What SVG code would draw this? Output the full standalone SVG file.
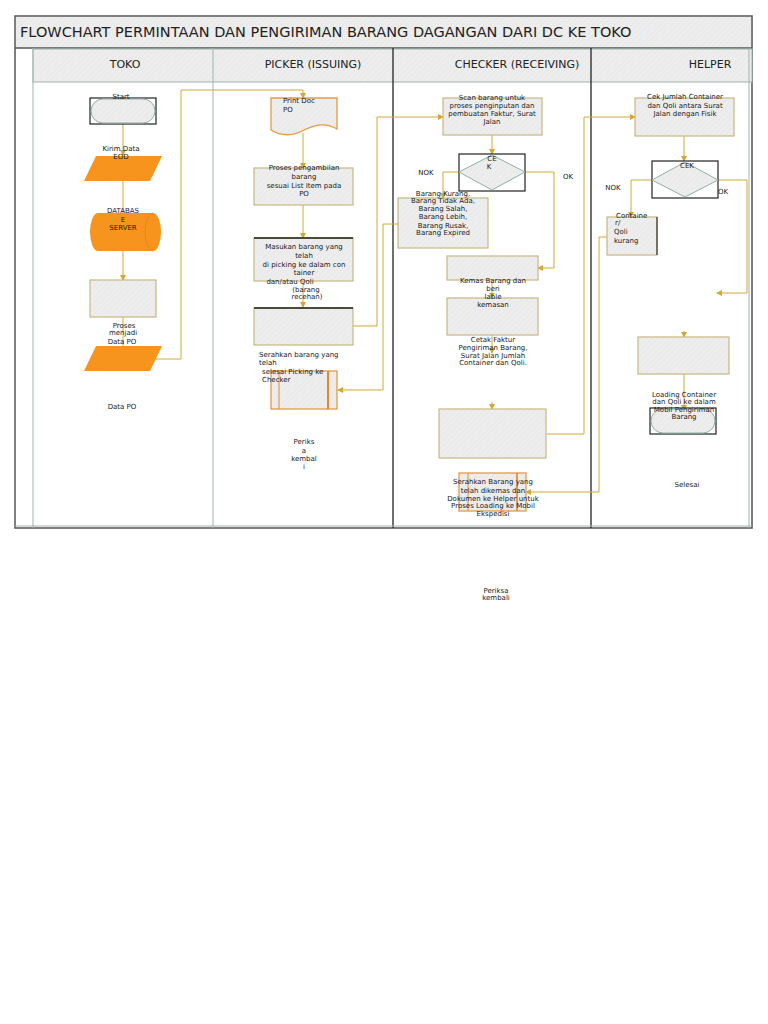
<svg xmlns="http://www.w3.org/2000/svg" width="768" height="1024" viewBox="0 0 768 1024">
<style>
text{font-family:"DejaVu Sans","Liberation Sans",sans-serif;fill:#1a1a1a}
.t{font-size:7px;text-anchor:middle}
.tl{font-size:7px}
.hd{font-size:11px;text-anchor:middle;fill:#222}
.box{fill:url(#hatch);stroke:#c8b782;stroke-width:1.2}
.org{fill:#f7941d;stroke:none}
.doc{fill:url(#hatch);stroke:#e69a45;stroke-width:1.3}
.con{fill:none;stroke:#d2a836;stroke-width:1}
.blk{fill:none;stroke:#222;stroke-width:1.2}
.dia{fill:url(#hatch);stroke:#8fb0a6;stroke-width:1}
</style>
<defs>
<pattern id="hatch" width="4" height="4" patternUnits="userSpaceOnUse" patternTransform="rotate(45)">
<rect width="4" height="4" fill="#ededed"/>
<line x1="0" y1="0" x2="0" y2="4" stroke="#e4e4e4" stroke-width="1"/>
</pattern>
<marker id="ah" markerWidth="6" markerHeight="6" refX="5" refY="3" orient="auto" markerUnits="userSpaceOnUse">
<path d="M0,0 L6,3 L0,6 Z" fill="#d2a836"/>
</marker>
</defs>
<rect width="768" height="1024" fill="#ffffff"/>

<g id="frame">
<rect x="15" y="16" width="737" height="512" fill="#ffffff" stroke="#555" stroke-width="1.5"/>
<rect x="16" y="17" width="735" height="31" fill="url(#hatch)"/>
<line x1="15" y1="48" x2="752" y2="48" stroke="#555" stroke-width="1.5"/>
<rect x="33" y="49" width="719" height="33" fill="url(#hatch)" stroke="#9fb5ad" stroke-width="1"/>
<line x1="33" y1="48" x2="33" y2="528" stroke="#9fb5ad" stroke-width="1"/>
<line x1="213" y1="48" x2="213" y2="528" stroke="#9fb5ad" stroke-width="1"/>
<line x1="393" y1="48" x2="393" y2="528" stroke="#222" stroke-width="1.3"/>
<line x1="591" y1="48" x2="591" y2="528" stroke="#222" stroke-width="1.3"/>
<line x1="749" y1="48" x2="749" y2="528" stroke="#9fb5ad" stroke-width="1"/>
<line x1="15" y1="526" x2="752" y2="526" stroke="#9fb5ad" stroke-width="1"/>
<text x="20" y="37" style="font-size:14.5px;fill:#222">FLOWCHART PERMINTAAN DAN PENGIRIMAN BARANG DAGANGAN DARI DC KE TOKO</text>
<text class="hd" x="125" y="68">TOKO</text>
<text class="hd" x="313" y="68">PICKER (ISSUING)</text>
<text class="hd" x="517" y="68">CHECKER (RECEIVING)</text>
<text class="hd" x="710" y="68">HELPER</text>
</g>

<g id="connectors">
<path class="con" d="M123,124 V155" marker-end="url(#ah)"/>
<path class="con" d="M123,181 V213"/>
<path class="con" d="M123,251 V280" marker-end="url(#ah)"/>
<path class="con" d="M123,317 V346"/>
<path class="con" d="M152,359 H181 V90 H303 V98" marker-end="url(#ah)"/>
<path class="con" d="M303,133 V168" marker-end="url(#ah)"/>
<path class="con" d="M303,205 V238" marker-end="url(#ah)"/>
<path class="con" d="M303,281 V307" marker-end="url(#ah)"/>
<path class="con" d="M353,326 H377 V117 H443" marker-end="url(#ah)"/>
<path class="con" d="M398,224 H383 V390 H338" marker-end="url(#ah)"/>
<path class="con" d="M492,135 V154" marker-end="url(#ah)"/>
<path class="con" d="M459,172 H443 V198" marker-end="url(#ah)"/>
<path class="con" d="M525,172 H554 V268 H538" marker-end="url(#ah)"/>
<path class="con" d="M492,280 V298" marker-end="url(#ah)"/>
<path class="con" d="M492,335 V353" marker-end="url(#ah)"/>
<path class="con" d="M492,402 V409" marker-end="url(#ah)"/>
<path class="con" d="M547,434 H584 V117 H635" marker-end="url(#ah)"/>
<path class="con" d="M684,136 V161" marker-end="url(#ah)"/>
<path class="con" d="M652,180 H631 V217" marker-end="url(#ah)"/>
<path class="con" d="M718,180 H747 V293 H717" marker-end="url(#ah)"/>
<path class="con" d="M607,237 H599 V492 H526" marker-end="url(#ah)"/>
<path class="con" d="M684,331 V337" marker-end="url(#ah)"/>
<path class="con" d="M684,374 V410" marker-end="url(#ah)"/>
</g>

<g id="start">
<rect class="blk" x="90" y="98" width="66" height="26"/>
<rect x="91" y="99" width="64" height="24" rx="12" fill="url(#hatch)" stroke="#8fb0a6" stroke-width="1"/>
<text class="t" x="121" y="98.5">Start</text>
</g>

<g id="kirim-data">
<polygon class="org" points="84,181 96,156 162,156 150,181"/>
<text class="t" x="121" y="151">Kirim Data</text>
<text class="t" x="121" y="158.5">EOD</text>
</g>

<g id="database">
<path class="org" d="M98,213 H153 A8,19 0 0 1 153,251 H98 A8,19 0 0 1 98,213 Z"/>
<path d="M153,213 A8,19 0 0 0 153,251" fill="none" stroke="#e8861a" stroke-width="1"/>
<text class="t" x="123" y="213">DATABAS</text>
<text class="t" x="123" y="222">E</text>
<text class="t" x="123" y="229.5">SERVER</text>
</g>

<g id="proses-po">
<rect class="box" x="90" y="280" width="66" height="37"/>
<text class="t" x="124" y="327.5">Proses</text>
<text class="t" x="123" y="335">menjadi</text>
<text class="t" x="122" y="343.5">Data PO</text>
</g>

<g id="data-po">
<polygon class="org" points="84,371 96,346 162,346 150,371"/>
<text class="t" x="122" y="408.5">Data PO</text>
</g>

<g id="print-doc">
<path class="doc" d="M271,98 H337 V129 C324,121 312,126 302,131 C292,136 281,136 271,130 Z"/>
<text class="tl" x="283" y="103">Print Doc</text>
<text class="tl" x="283" y="112">PO</text>
</g>

<g id="pengambilan">
<rect class="box" x="254" y="168" width="99" height="37"/>
<text class="t" x="304" y="170">Proses pengambilan</text>
<text class="t" x="304" y="179">barang</text>
<text class="t" x="304" y="187.5">sesuai List Item pada</text>
<text class="t" x="304" y="196">PO</text>
</g>

<g id="masukan">
<rect class="box" x="254" y="238" width="99" height="43"/>
<line x1="254" y1="238" x2="353" y2="238" stroke="#4a4a3a" stroke-width="2"/>
<text class="t" x="304" y="249">Masukan barang yang</text>
<text class="t" x="304" y="257.5">telah</text>
<text class="t" x="304" y="266.5">di picking  ke dalam con</text>
<text class="t" x="304" y="275">tainer</text>
<text class="t" x="290" y="283.5">dan/atau Qoli</text>
<text class="t" x="306" y="291.5">(barang</text>
<text class="t" x="307" y="299">recehan)</text>
</g>

<g id="serahkan-picker">
<rect class="box" x="254" y="308" width="99" height="37"/>
<line x1="254" y1="308" x2="353" y2="308" stroke="#4a4a3a" stroke-width="2"/>
<text class="tl" x="259" y="357">Serahkan barang yang</text>
<text class="tl" x="259" y="365">telah</text>
</g>

<g id="predef-picker">
<rect class="doc" x="271" y="371" width="66" height="38"/>
<line x1="279" y1="371" x2="279" y2="409" stroke="#e69a45" stroke-width="1.2"/>
<line x1="328" y1="371" x2="328" y2="409" stroke="#d9801f" stroke-width="1.8"/>
<text class="tl" x="262" y="374">selesai Picking ke</text>
<text class="tl" x="262" y="382">Checker</text>
</g>

<g id="periksa-picker">
<text class="t" x="304" y="444">Periks</text>
<text class="t" x="304" y="452.5">a</text>
<text class="t" x="304" y="461">kembal</text>
<text class="t" x="304" y="469">i</text>
</g>

<g id="scan">
<rect class="box" x="443" y="98" width="99" height="37"/>
<text class="t" x="492" y="99.5">Scan barang untuk</text>
<text class="t" x="492" y="107.8">proses penginputan dan</text>
<text class="t" x="492" y="116">pembuatan Faktur, Surat</text>
<text class="t" x="492" y="124.3">Jalan</text>
</g>

<g id="cek-checker">
<rect class="blk" x="459" y="154" width="66" height="37"/>
<polygon class="dia" points="492,155 525,172 492,190 459,172"/>
<text class="t" x="492" y="161">CE</text>
<text class="t" x="489" y="168.5">K</text>
<text class="t" x="426" y="175">NOK</text>
<text class="t" x="568" y="179">OK</text>
</g>

<g id="barang-kurang">
<rect class="box" x="398" y="198" width="90" height="50"/>
<text class="t" x="443" y="196">Barang Kurang,</text>
<text class="t" x="443" y="203">Barang Tidak Ada,</text>
<text class="t" x="443" y="211">Barang Salah,</text>
<text class="t" x="443" y="219">Barang Lebih,</text>
<text class="t" x="443" y="227.5">Barang Rusak,</text>
<text class="t" x="443" y="235">Barang Expired</text>
</g>

<g id="cetak">
<rect class="box" x="447" y="298" width="91" height="37"/>
<text class="t" x="493" y="341.5">Cetak Faktur</text>
<text class="t" x="493" y="350">Pengiriman Barang,</text>
<text class="t" x="493" y="357.5">Surat Jalan Jumlah</text>
<text class="t" x="493" y="365">Container dan Qoli.</text>
</g>

<g id="kemas">
<rect class="box" x="447" y="256" width="91" height="24"/>
<text class="t" x="493" y="282.5">Kemas Barang dan</text>
<text class="t" x="493" y="291">beri</text>
<text class="t" x="493" y="298.5">lable</text>
<text class="t" x="493" y="307">kemasan</text>
</g>

<g id="box-checker">
<rect class="box" x="439" y="409" width="107" height="49"/>
</g>

<g id="serahkan-checker">
<rect class="doc" x="459" y="473" width="67" height="38"/>
<line x1="468" y1="473" x2="468" y2="511" stroke="#e69a45" stroke-width="1.2"/>
<line x1="517" y1="473" x2="517" y2="511" stroke="#d9801f" stroke-width="1.5"/>
<text class="t" x="493" y="484">Serahkan Barang yang</text>
<text class="t" x="493" y="492.5">telah dikemas dan</text>
<text class="t" x="493" y="501">Dokumen ke Helper untuk</text>
<text class="t" x="493" y="507.5">Proses Loading ke Mobil</text>
<text class="t" x="493" y="516">Ekspedisi</text>
</g>

<g id="cek-jumlah">
<rect class="box" x="635" y="98" width="99" height="38"/>
<text class="t" x="685" y="99">Cek Jumlah Container</text>
<text class="t" x="685" y="107.5">dan Qoli antara Surat</text>
<text class="t" x="685" y="116">Jalan dengan Fisik</text>
</g>

<g id="cek-helper">
<rect class="blk" x="652" y="161" width="66" height="37"/>
<polygon class="dia" points="685,162 718,180 685,197 652,180"/>
<text class="t" x="687" y="168">CEK</text>
<text class="t" x="613" y="190">NOK</text>
<text class="t" x="723" y="194">OK</text>
</g>

<g id="container-kurang">
<rect class="box" x="607" y="217" width="50" height="38"/>
<line x1="657" y1="217" x2="657" y2="255" stroke="#333" stroke-width="1.2"/>
<text class="tl" x="616" y="217.5">Containe</text>
<text class="tl" x="615" y="225">r/</text>
<text class="tl" x="614" y="234">Qoli</text>
<text class="tl" x="614" y="242.5">kurang</text>
</g>

<g id="loading">
<rect class="box" x="638" y="337" width="91" height="37"/>
</g>

<g id="selesai">
<rect class="blk" x="650" y="408" width="66" height="26"/>
<rect x="651" y="409" width="64" height="24" rx="12" fill="url(#hatch)" stroke="#8fb0a6" stroke-width="1"/>
<text class="t" x="684" y="396.5">Loading Container</text>
<text class="t" x="684" y="404">dan Qoli ke dalam</text>
<text class="t" x="684" y="411.5">Mobil Pengiriman</text>
<text class="t" x="684" y="419">Barang</text>
<text class="t" x="687" y="487">Selesai</text>
</g>

<g id="periksa-kembali">
<text class="t" x="496" y="592.5">Periksa</text>
<text class="t" x="496" y="600">kembali</text>
</g>
</svg>
